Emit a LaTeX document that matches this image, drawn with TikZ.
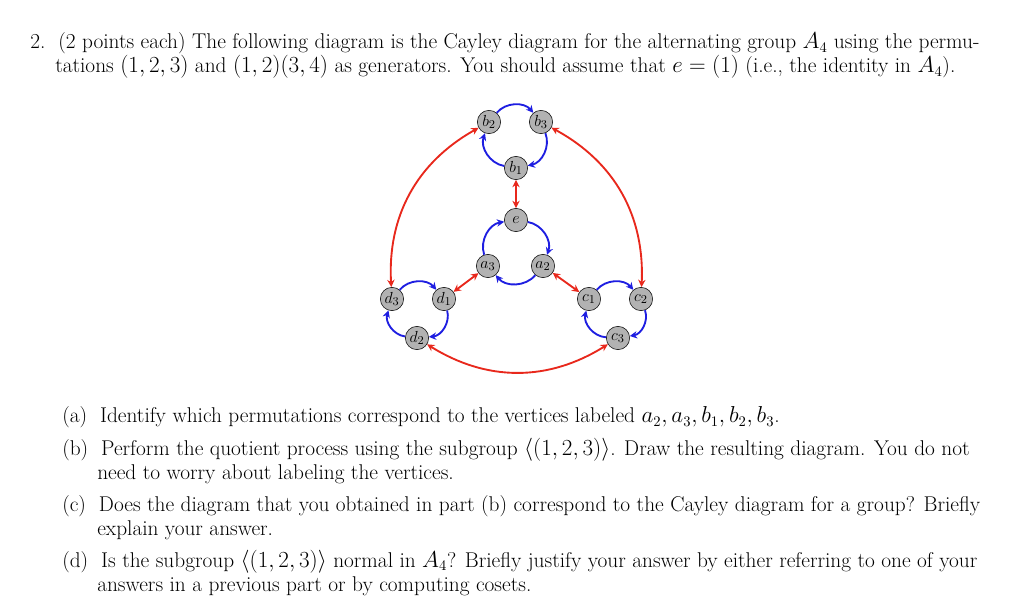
\documentclass[tikz,border=0pt]{standalone}
\usetikzlibrary{arrows.meta}
\definecolor{rd}{RGB}{232,40,28}
\definecolor{bl}{RGB}{30,30,225}
\begin{document}
\begin{tikzpicture}[x=0.75pt,y=0.75pt,
  v/.style={circle,draw=black,fill=black!30,thin,minimum size=17.5pt,inner sep=0pt,font=\fontsize{12.5}{14}\selectfont},
  bar/.style={bl,line width=1.4pt,-{Stealth[length=5.5pt,width=5.5pt]},bend left=50},
  rar/.style={rd,line width=1.4pt,{Stealth[length=5.5pt,width=5.5pt]}-{Stealth[length=5.5pt,width=5.5pt]}},
  t/.style={anchor=base west,inner sep=0pt,font=\fontsize{16}{18}\selectfont}]
\useasboundingbox (0,0) rectangle (1024,614);
\node[v] (b2) at (489,492) {$b_2$};
\node[v] (b3) at (541,492) {$b_3$};
\node[v] (b1) at (516,446) {$b_1$};
\node[v] (e) at (516,394) {$e$};
\node[v] (a3) at (488,348) {$a_3$};
\node[v] (a2) at (543,348) {$a_2$};
\node[v] (d3) at (392,315) {$d_3$};
\node[v] (d1) at (444,315) {$d_1$};
\node[v] (d2) at (417,276) {$d_2$};
\node[v] (c1) at (589,315) {$c_1$};
\node[v] (c2) at (641,315) {$c_2$};
\node[v] (c3) at (618,276) {$c_3$};
\draw[bar] (b1) to (b2); \draw[bar] (b2) to (b3); \draw[bar] (b3) to (b1);
\draw[bar] (e) to (a2); \draw[bar] (a2) to (a3); \draw[bar] (a3) to (e);
\draw[bar] (d3) to (d1); \draw[bar] (d1) to (d2); \draw[bar] (d2) to (d3);
\draw[bar] (c1) to (c2); \draw[bar] (c2) to (c3); \draw[bar] (c3) to (c1);
\draw[rar] (b1) -- (e);
\draw[rar] (a3) -- (d1);
\draw[rar] (a2) -- (c1);
\draw[rar] (b2) to[bend right=32] (d3);
\draw[rar] (b3) to[bend left=32] (c2);
\draw[rar] (d2) to[bend right=32] (c3);
\node[t] (l1) at (30,565) {2.\ \ (2 points each) The following diagram is the Cayley diagram for the alternating group $A_4$ using the permu-};
\node[t] (l2) at (55,541) {tations $(1,2,3)$ and $(1,2)(3,4)$ as generators. You should assume that $e=(1)$ (i.e., the identity in $A_4$).};
\node[t] (qa) at (62,191) {(a)\ \ Identify which permutations correspond to the vertices labeled $a_2,a_3,b_1,b_2,b_3$.};
\node[t] (qb1) at (62,158) {(b)\ \ Perform the quotient process using the subgroup $\langle(1,2,3)\rangle$. Draw the resulting diagram. You do not};
\node[t] (qb2) at (97,134) {need to worry about labeling the vertices.};
\node[t] (qc1) at (62,103) {(c)\ \ Does the diagram that you obtained in part (b) correspond to the Cayley diagram for a group? Briefly};
\node[t] (qc2) at (97,79) {explain your answer.};
\node[t] (qd1) at (62,47) {(d)\ \ Is the subgroup $\langle(1,2,3)\rangle$ normal in $A_4$? Briefly justify your answer by either referring to one of your};
\node[t] (qd2) at (97,23) {answers in a previous part or by computing cosets.};
\end{tikzpicture}
\end{document}
